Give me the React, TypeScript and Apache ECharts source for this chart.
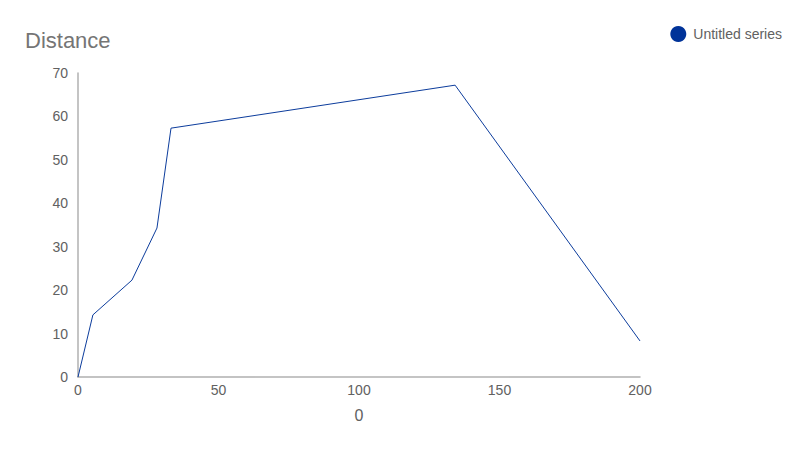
import React, { useEffect, useRef } from "react";
import * as echarts from "echarts";

const xValues = [0, 5.3, 19.2, 28.1, 33.1, 134.2, 200];
const yValues = [0, 14.3, 22.3, 34.3, 57.3, 67.2, 8.3];
const seriesName = "Untitled series";
const titleText = "Distance";
const xAxisName = "0";

export default function App() {
  const ref = useRef<HTMLDivElement>(null);
  useEffect(() => {
    if (!ref.current) return;
    const chart = echarts.init(ref.current, undefined, { renderer: "svg" });
    const font = "Arial, 'Liberation Sans', sans-serif";
    chart.setOption({
      animation: false,
      backgroundColor: "#ffffff",
      title: {
        text: titleText,
        left: 20,
        top: 24,
        textStyle: { fontFamily: font, fontSize: 22, fontWeight: "normal", color: "#757575" },
      },
      legend: {
        right: 13,
        top: 21,
        itemWidth: 16,
        itemHeight: 16,
        itemGap: 6,
        icon: "circle",
        textStyle: { fontFamily: font, fontSize: 14, color: "#616161", padding: [0, 0, 0, 2] },
        data: [seriesName],
      },
      grid: { left: 78, right: 160, top: 73, bottom: 73, containLabel: false },
      xAxis: {
        type: "value",
        min: 0,
        max: 200,
        interval: 50,
        name: xAxisName,
        nameLocation: "middle",
        nameGap: 30,
        nameTextStyle: { fontFamily: font, fontSize: 16, color: "#616161" },
        axisLine: { show: true, lineStyle: { color: "#b0b0b0", width: 1.5 } },
        axisTick: { show: false },
        splitLine: { show: false },
        axisLabel: { fontFamily: font, fontSize: 14, color: "#616161", margin: 6 },
      },
      yAxis: {
        type: "value",
        min: 0,
        max: 70,
        interval: 10,
        axisLine: { show: true, lineStyle: { color: "#b0b0b0", width: 1.5 } },
        axisTick: { show: false },
        splitLine: { show: false },
        axisLabel: { fontFamily: font, fontSize: 14, color: "#616161", margin: 10 },
      },
      series: [
        {
          name: seriesName,
          type: "line",
          data: xValues.map((x, i) => [x, yValues[i]]),
          showSymbol: false,
          symbol: "circle",
          itemStyle: { color: "#003399" },
          lineStyle: { color: "#0c3c9c", width: 1 },
        },
      ],
    });
    return () => chart.dispose();
  }, []);
  return <div ref={ref} style={{ width: 800, height: 450, position: "absolute", left: 0, top: 0 }} />;
}
